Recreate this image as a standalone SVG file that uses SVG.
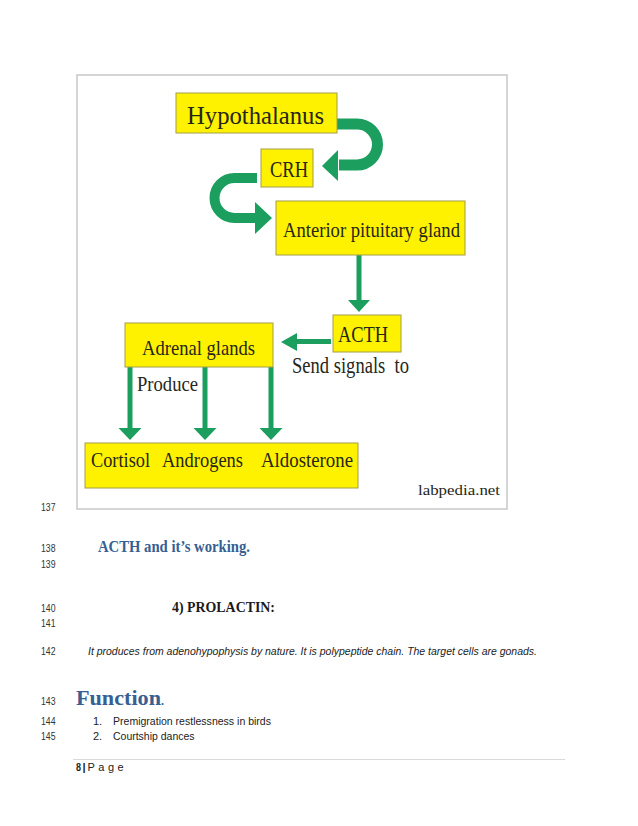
<svg xmlns="http://www.w3.org/2000/svg" width="638" height="826" viewBox="0 0 638 826">
<style>
.box{fill:#fff200;stroke:#a39e4a;stroke-width:1}
.dt{font-family:"Liberation Serif",serif;fill:#26261a}
.ln{font-family:"Liberation Sans",sans-serif;font-size:10px;fill:#333}
.cs{fill:none;stroke:#1b9e5e}
.ah{fill:#1b9e5e}
.hd{font-family:"Liberation Serif",serif;font-weight:bold;fill:#376092}
.bd{font-family:"Liberation Sans",sans-serif;font-size:11px;fill:#222}
</style>
<rect width="638" height="826" fill="#fff"/>
<rect id="frame" x="77" y="75" width="430" height="434" fill="#fff" stroke="#c8c8c8" stroke-width="1.5"/>

<g id="connectors">
  <path class="cs" stroke-width="11" d="M336 124 H357 A20.5 20.5 0 0 1 357 165 H339"/>
  <polygon class="ah" points="322,166 338,150 338,181"/>
  <path class="cs" stroke-width="10" d="M257 178 H234.5 A20 20 0 0 0 234.5 218 H256"/>
  <polygon class="ah" points="272,218 255,202 255,234"/>
  <path class="cs" stroke-width="5" d="M359 255 V301"/>
  <polygon class="ah" points="359,312 348,300 370,300"/>
  <path class="cs" stroke-width="5" d="M331 341.5 H296"/>
  <polygon class="ah" points="281,342 297,333 297,351"/>
  <path class="cs" stroke-width="5" d="M130 367 V429"/>
  <polygon class="ah" points="130,440 118.5,428 141.5,428"/>
  <path class="cs" stroke-width="5" d="M205 367 V429"/>
  <polygon class="ah" points="205,440 193.5,428 216.5,428"/>
  <path class="cs" stroke-width="5" d="M271 367 V429"/>
  <polygon class="ah" points="271,440 259.5,428 282.5,428"/>
</g>

<g id="hypothalanus">
  <rect class="box" x="176" y="93" width="161" height="40"/>
  <text class="dt" x="187" y="124" font-size="26" textLength="137" lengthAdjust="spacingAndGlyphs">Hypothalanus</text>
</g>
<g id="crh">
  <rect class="box" x="261" y="149" width="52" height="38"/>
  <text class="dt" x="270" y="177" font-size="23" textLength="38" lengthAdjust="spacingAndGlyphs">CRH</text>
</g>
<g id="anterior">
  <rect class="box" x="276" y="201" width="189" height="54"/>
  <text class="dt" x="283" y="237" font-size="22" textLength="177" lengthAdjust="spacingAndGlyphs">Anterior pituitary gland</text>
</g>
<g id="acth">
  <rect class="box" x="333" y="315" width="68" height="37"/>
  <text class="dt" x="338" y="342" font-size="24" textLength="50" lengthAdjust="spacingAndGlyphs">ACTH</text>
</g>
<g id="adrenal">
  <rect class="box" x="125" y="323" width="148" height="44"/>
  <text class="dt" x="142" y="355" font-size="22" textLength="113" lengthAdjust="spacingAndGlyphs">Adrenal glands</text>
</g>
<g id="labels">
  <text class="dt" x="292" y="373" font-size="24" textLength="117" lengthAdjust="spacingAndGlyphs" xml:space="preserve">Send signals  to</text>
  <text class="dt" x="137" y="391" font-size="22" textLength="61" lengthAdjust="spacingAndGlyphs">Produce</text>
  <text class="dt" x="418" y="495" font-size="15" textLength="82" lengthAdjust="spacingAndGlyphs">labpedia.net</text>
</g>
<g id="hormones">
  <rect class="box" x="85" y="443" width="273" height="45"/>
  <text class="dt" x="91" y="467" font-size="22" textLength="59" lengthAdjust="spacingAndGlyphs">Cortisol</text>
  <text class="dt" x="162" y="467" font-size="22" textLength="81" lengthAdjust="spacingAndGlyphs">Androgens</text>
  <text class="dt" x="261" y="467" font-size="22" textLength="92" lengthAdjust="spacingAndGlyphs">Aldosterone</text>
</g>

<g id="linenumbers">
  <text class="ln" x="41" y="511" textLength="14.5" lengthAdjust="spacingAndGlyphs">137</text>
  <text class="ln" x="41" y="552" textLength="14.5" lengthAdjust="spacingAndGlyphs">138</text>
  <text class="ln" x="41" y="568" textLength="14.5" lengthAdjust="spacingAndGlyphs">139</text>
  <text class="ln" x="41" y="612" textLength="14.5" lengthAdjust="spacingAndGlyphs">140</text>
  <text class="ln" x="41" y="627" textLength="14.5" lengthAdjust="spacingAndGlyphs">141</text>
  <text class="ln" x="41" y="655" textLength="14.5" lengthAdjust="spacingAndGlyphs">142</text>
  <text class="ln" x="41" y="705" textLength="14.5" lengthAdjust="spacingAndGlyphs">143</text>
  <text class="ln" x="41" y="725" textLength="14.5" lengthAdjust="spacingAndGlyphs">144</text>
  <text class="ln" x="41" y="740" textLength="14.5" lengthAdjust="spacingAndGlyphs">145</text>
</g>

<g id="document">
  <text class="hd" x="98" y="552" font-size="16" textLength="152" lengthAdjust="spacingAndGlyphs">ACTH and it’s working.</text>
  <text x="172" y="612" font-family="Liberation Serif, serif" font-weight="bold" font-size="15.5" fill="#1a1a1a" textLength="103" lengthAdjust="spacingAndGlyphs">4) PROLACTIN:</text>
  <text class="bd" x="88" y="655" font-style="italic" font-size="11.5" textLength="449" lengthAdjust="spacingAndGlyphs">It produces from adenohypophysis by nature. It is polypeptide chain. The target cells  are gonads.</text>
  <text class="hd" x="76" y="705" font-size="22" textLength="85" lengthAdjust="spacingAndGlyphs">Function</text>
  <text class="hd" x="161" y="705" font-size="12" font-weight="normal">.</text>
  <text class="bd" x="93" y="725">1.</text>
  <text class="bd" x="113" y="725" font-size="11.5" textLength="158" lengthAdjust="spacingAndGlyphs">Premigration restlessness in birds</text>
  <text class="bd" x="93" y="740">2.</text>
  <text class="bd" x="113" y="740" font-size="11.5" textLength="81.5" lengthAdjust="spacingAndGlyphs">Courtship dances</text>
  <line x1="73" y1="759.5" x2="565" y2="759.5" stroke="#d9d9d9" stroke-width="1"/>
  <text class="bd" x="76" y="771" font-weight="bold" fill="#111" textLength="5" lengthAdjust="spacingAndGlyphs">8</text>
  <text class="bd" x="82.5" y="771" font-weight="bold" fill="#111">|</text>
  <text class="bd" x="87.5" y="771" fill="#8c8c8c" letter-spacing="3.5">Page</text>
</g>
</svg>
